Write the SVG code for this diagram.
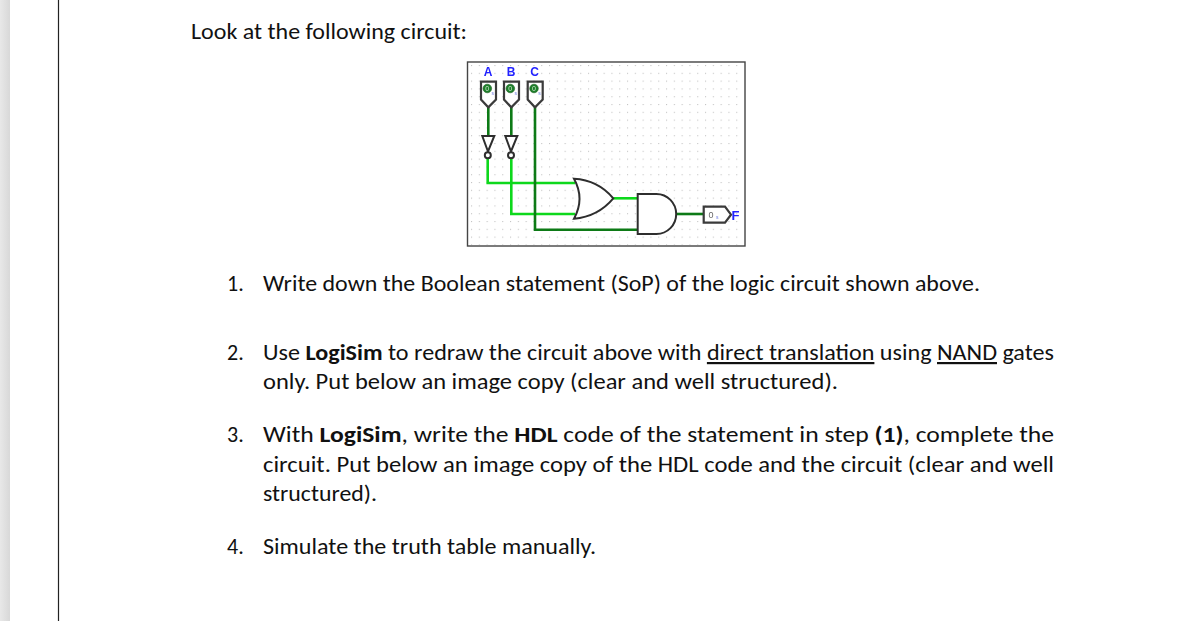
<svg xmlns="http://www.w3.org/2000/svg" width="1188" height="621" viewBox="0 0 1188 621">
<style>
.t{font-family:Carlito,Lato,"Open Sans","Noto Sans",sans-serif;font-size:22px;fill:#111}
.u{text-decoration:underline}
.b{font-weight:700}
.lab{font-family:"Liberation Sans",Arial,sans-serif;font-weight:700;font-size:12px;fill:#2222ff;text-anchor:middle}
.gate{fill:#fff;stroke:#2e2e2e;stroke-width:2}
.pin{fill:#fff;stroke:#3a3a3a;stroke-width:2.2}
.dk{fill:none;stroke:#0b7a14;stroke-width:2.6}
.lt{fill:none;stroke:#10d81a;stroke-width:2.6}
.led{fill:#1f7f2a;stroke:#1a5d1f;stroke-width:.6}
.z{font-family:"Liberation Sans",Arial,sans-serif;font-size:7px;fill:#cfe8cf;text-anchor:middle}
.s{font-family:"Liberation Sans",Arial,sans-serif;font-size:5px;fill:#6a78e0}
</style>
<defs>
<pattern id="grid" x="471" y="65" width="7.8" height="7.8" patternUnits="userSpaceOnUse"><rect x="0" y="0" width="1.1" height="1.1" fill="#c4c4c4"/></pattern>
<linearGradient id="band" x1="0" x2="1" y1="0" y2="0"><stop offset="0" stop-color="#e8e8e8"/><stop offset="1" stop-color="#d8d8d8"/></linearGradient>
<filter id="soft" x="-2%" y="-2%" width="104%" height="104%"><feGaussianBlur stdDeviation="0.4"/></filter>
</defs>
<rect width="1188" height="621" fill="#fff"/>
<rect x="0" y="0" width="10" height="621" fill="url(#band)"/>
<line x1="58.5" y1="0" x2="58.5" y2="621" stroke="#222" stroke-width="1.2"/>

<g id="page-text">
<text class="t" x="191" y="39" textLength="276" lengthAdjust="spacingAndGlyphs">Look at the following circuit:</text>
<text class="t" x="227" y="291">1.</text>
<text class="t" x="263" y="291" textLength="717" lengthAdjust="spacingAndGlyphs">Write down the Boolean statement (SoP) of the logic circuit shown above.</text>
<text class="t" x="227" y="360">2.</text>
<text class="t" x="263" y="360" textLength="791" lengthAdjust="spacingAndGlyphs">Use <tspan class="b">LogiSim</tspan> to redraw the circuit above with <tspan class="u">direct translation</tspan> using <tspan class="u">NAND</tspan> gates</text>
<text class="t" x="263" y="389" textLength="575" lengthAdjust="spacingAndGlyphs">only. Put below an image copy (clear and well structured).</text>
<text class="t" x="227" y="442">3.</text>
<text class="t" x="263" y="442" textLength="791" lengthAdjust="spacingAndGlyphs">With <tspan class="b">LogiSim</tspan>, write the <tspan class="b">HDL</tspan> code of the statement in step <tspan class="b">(1)</tspan>, complete the</text>
<text class="t" x="263" y="472" textLength="791" lengthAdjust="spacingAndGlyphs">circuit. Put below an image copy of the HDL code and the circuit (clear and well</text>
<text class="t" x="263" y="501" textLength="114" lengthAdjust="spacingAndGlyphs">structured).</text>
<text class="t" x="227" y="554">4.</text>
<text class="t" x="263" y="554" textLength="333" lengthAdjust="spacingAndGlyphs">Simulate the truth table manually.</text>
</g>

<g filter="url(#soft)">
<rect id="frame" x="467.5" y="62" width="277.5" height="184" fill="#fff" stroke="#444" stroke-width="1.4"/>
<rect x="469" y="63" width="275" height="182" fill="url(#grid)"/>

<g id="connectors">
<path class="dk" d="M488.3 107V136"/>
<path class="dk" d="M511.3 107V136"/>
<path class="lt" d="M487.7 158V183H575"/>
<path class="lt" d="M511.3 158V214H575"/>
<path class="dk" d="M535 107V229.7H637.7"/>
<path class="lt" d="M613.3 198.3H637.7"/>
<path class="dk" d="M676 214H703.5"/>
</g>

<g id="pin-a">
<text class="lab" x="488" y="76">A</text>
<path class="pin" d="M481 81.7H496V99.5L488.3 107.3L481 99.5Z"/>
<circle class="led" cx="487.3" cy="88.5" r="4.3"/><text class="z" x="487.3" y="91">0</text><text class="s" x="491.5" y="95">s</text>
</g>
<g id="pin-b">
<text class="lab" x="511" y="76">B</text>
<path class="pin" d="M504 81.7H519V99.5L511.3 107.3L504 99.5Z"/>
<circle class="led" cx="510.3" cy="88.5" r="4.3"/><text class="z" x="510.3" y="91">0</text><text class="s" x="514.5" y="95">s</text>
</g>
<g id="pin-c">
<text class="lab" x="534.5" y="76">C</text>
<path class="pin" d="M527.7 81.7H542.7V99.5L535 107.3L527.7 99.5Z"/>
<circle class="led" cx="534" cy="88.5" r="4.3"/><text class="z" x="534" y="91">0</text><text class="s" x="538.2" y="95">s</text>
</g>
<g id="not-a">
<path class="gate" d="M482.3 136H494.3L488 151.5Z"/><circle class="gate" cx="487.8" cy="155.3" r="3"/>
</g>
<g id="not-b">
<path class="gate" d="M505.3 136H517.3L511 151.5Z"/><circle class="gate" cx="511" cy="155.3" r="3"/>
</g>
<g id="or-gate">
<path class="gate" d="M574 178.7Q598 180 613.3 198.3Q598 216.5 574 218.7Q585 198.5 574 178.7Z"/>
</g>
<g id="and-gate">
<path class="gate" d="M637.7 194H656.5A19.7 20 0 0 1 656.5 234H637.7Z"/>
</g>
<g id="output-f">
<path class="pin" d="M703.7 206.7H725L731 214.7L725 222.7H703.7Z"/>
<text x="711" y="218" font-family="'Liberation Sans',Arial,sans-serif" font-size="9" fill="#666" text-anchor="middle">0</text><text class="s" x="716" y="219">s</text>
<text class="lab" x="735.5" y="220" style="font-size:13px">F</text>
</g>
</g>
</svg>
